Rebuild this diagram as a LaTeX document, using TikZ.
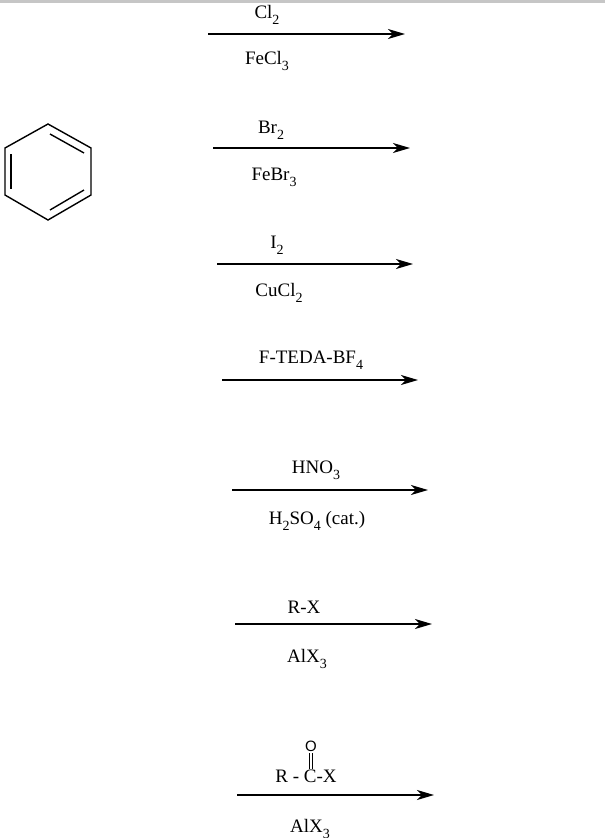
\documentclass[tikz,border=0pt]{standalone}
\usepackage{fontspec}
\setmainfont{Liberation Serif}
\newfontfamily\sansf{Liberation Sans}
\usetikzlibrary{arrows.meta}
\newcommand{\sbs}[1]{\raisebox{-0.3em}{\fontsize{14}{16}\selectfont #1}}
\begin{document}
\begin{tikzpicture}[x=1pt,y=-1pt,
  rxn/.style={line width=1.4pt,-{Stealth[length=17pt,width=10pt,inset=5pt]}},
  lbl/.style={inner sep=0pt,font=\fontsize{19}{22}\selectfont},
  bond/.style={line width=1.4pt}]
\useasboundingbox (0,0) rectangle (605,838);
\fill[gray!45] (0,0) rectangle (605,2.5);
% benzene
\coordinate (v1) at (48,124); \coordinate (v2) at (91,148); \coordinate (v3) at (91,195);
\coordinate (v4) at (48,220); \coordinate (v5) at (5,195); \coordinate (v6) at (5,148);
\draw[bond,line join=miter] (v1)--(v2)--(v3)--(v4)--(v5)--(v6)--cycle;
\draw[bond] (50,134)--(84,153);
\draw[bond] (11,154)--(11,189);
\draw[bond] (50,210)--(84,190);
% arrows
\foreach \n/\y/\a/\b in {1/34/208/405,2/148/213/410,3/264/217/413,4/380/222/418,5/490/232/428,6/624/235/432,7/795/237/434}{
  \coordinate (s\n) at (\a,\y); \coordinate (e\n) at (\b,\y);
  \draw[rxn] (s\n)--(e\n);}
\node[lbl] (t1) at (267,15) {Cl\sbs{2}};
\node[lbl] (b1) at (267,61) {FeCl\sbs{3}};
\node[lbl] (t2) at (271,130) {Br\sbs{2}};
\node[lbl] (b2) at (274,177) {FeBr\sbs{3}};
\node[lbl] (t3) at (277,245) {I\sbs{2}};
\node[lbl] (b3) at (279,293) {CuCl\sbs{2}};
\node[lbl] (t4) at (311,360) {F-TEDA-BF\sbs{4}};
\node[lbl] (t5) at (316,470) {HNO\sbs{3}};
\node[lbl] (b5) at (317,521) {H\sbs{2}SO\sbs{4} (cat.)};
\node[lbl] (t6) at (304,607) {R-X};
\node[lbl] (b6) at (307,659) {AlX\sbs{3}};
\node[lbl] (t7) at (306,776) {R - C-X};
\node[inner sep=0pt,font=\sansf\fontsize{15}{17}\selectfont] (o7) at (311,746) {O};
\draw[line width=1.1pt] (309.5,753)--(309.5,769) (312.5,753)--(312.5,769);
\node[lbl] (b7) at (310,829) {AlX\sbs{3}};
\end{tikzpicture}
\end{document}
